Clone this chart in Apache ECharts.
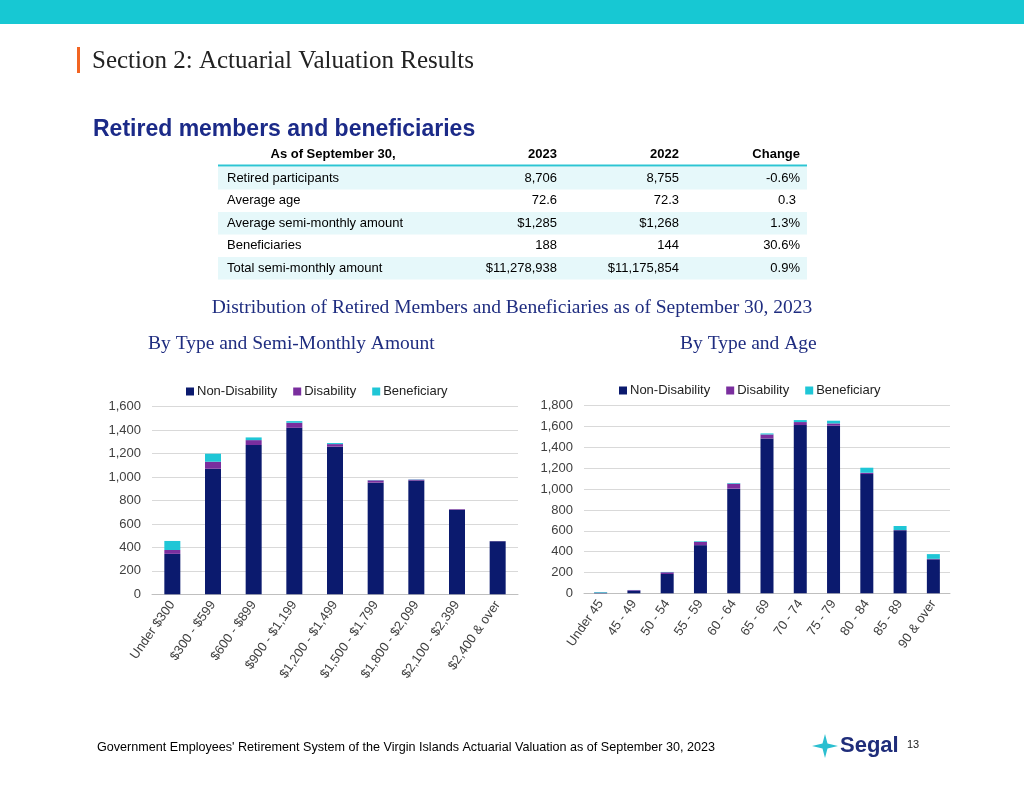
<!DOCTYPE html>
<html>
<head>
<meta charset="utf-8">
<title>Retired members and beneficiaries</title>
<script src="https://cdn.jsdelivr.net/npm/echarts@6/dist/echarts.min.js"></script>
<style>
  html, body { margin: 0; padding: 0; background: #fff; }
  #page { width: 1024px; height: 791px; }
</style>
</head>
<body>
<div id="page"></div>
<script>
// summary table
const tableHead = ['As of September 30,', '2023', '2022', 'Change']
const rowLabels = ['Retired participants', 'Average age', 'Average semi-monthly amount', 'Beneficiaries', 'Total semi-monthly amount']
const val2023 = ['8,706', '72.6', '$1,285', '188', '$11,278,938']
const val2022 = ['8,755', '72.3', '$1,268', '144', '$11,175,854']
const valChange = ['-0.6%', '0.3', '1.3%', '30.6%', '0.9%']

const seriesNames = ['Non-Disability', 'Disability', 'Beneficiary']

// by semi-monthly amount
const amountCats = ['Under $300', '$300 - $599', '$600 - $899', '$900 - $1,199', '$1,200 - $1,499', '$1,500 - $1,799', '$1,800 - $2,099', '$2,100 - $2,399', '$2,400 & over']
const amountNonDis = [345, 1071, 1273, 1420, 1259, 952, 970, 722, 453]
const amountDis = [33, 60, 42, 43, 22, 20, 8, 5, 1]
const amountBen = [77, 68, 23, 14, 9, 2, 2, 0, 0]

// by age
const ageCats = ['Under 45', '45 - 49', '50 - 54', '55 - 59', '60 - 64', '65 - 69', '70 - 74', '75 - 79', '80 - 84', '85 - 89', '90 & over']
const ageNonDis = [6, 22, 185, 462, 1004, 1486, 1614, 1608, 1144, 605, 326]
const ageDis = [1, 8, 17, 32, 48, 38, 29, 22, 13, 2, 5]
const ageBen = [5, 2, 3, 6, 6, 10, 19, 26, 48, 39, 45]

const colors = ['#0b1a6e', '#7a2e9e', '#1fc6d6']
const sans = '"Liberation Sans", Arial, sans-serif'
const serif = '"Liberation Serif", "DejaVu Serif", serif'
const navy = '#1f2d80'

const chart = echarts.init(document.getElementById('page'))

const txt = (text, x, y, o) => ({
  type: 'text',
  style: Object.assign({ text, x, y, fill: '#000', fontSize: 13, fontFamily: sans, align: 'left', verticalAlign: 'middle' }, o || {})
})

// page furniture + table
const graphic = [
  { type: 'rect', shape: { x: 0, y: 0, width: 1024, height: 24 }, style: { fill: '#17c8d3' } },
  { type: 'rect', shape: { x: 77, y: 47, width: 3, height: 26 }, style: { fill: '#f26522' } },
  txt('Section 2: Actuarial Valuation Results', 92, 61, { fontSize: 25, fontFamily: serif, fill: '#222' }),
  txt('Retired members and beneficiaries', 93, 130, { fontSize: 23, fontWeight: 'bold', fill: '#1b2a88' }),
  txt(tableHead[0], 333, 154, { fontWeight: 'bold', align: 'center' }),
  txt(tableHead[1], 557, 154, { fontWeight: 'bold', align: 'right' }),
  txt(tableHead[2], 679, 154, { fontWeight: 'bold', align: 'right' }),
  txt(tableHead[3], 800, 154, { fontWeight: 'bold', align: 'right' })
]

const rowTop = 167
const rowH = 22.5
rowLabels.forEach((label, i) => {
  const yMid = rowTop + i * rowH + rowH / 2
  if (i % 2 === 0) {
    graphic.push({ type: 'rect', shape: { x: 218, y: rowTop + i * rowH, width: 589, height: rowH }, style: { fill: '#e6f8fa' } })
  }
  graphic.push(txt(label, 227, yMid))
  graphic.push(txt(val2023[i], 557, yMid, { align: 'right' }))
  graphic.push(txt(val2022[i], 679, yMid, { align: 'right' }))
  graphic.push(txt(valChange[i], valChange[i].endsWith('%') ? 800 : 796, yMid, { align: 'right' }))
})

graphic.push(
  { type: 'rect', shape: { x: 218, y: 164.5, width: 589, height: 2 }, style: { fill: '#2cc5d3' } },
  txt('Distribution of Retired Members and Beneficiaries as of September 30, 2023', 512, 308, { fontSize: 19.5, fontFamily: serif, fill: navy, align: 'center' }),
  txt('By Type and Semi-Monthly Amount', 148, 344, { fontSize: 19.5, fontFamily: serif, fill: navy }),
  txt('By Type and Age', 680, 344, { fontSize: 19.5, fontFamily: serif, fill: navy }),
  txt("Government Employees' Retirement System of the Virgin Islands Actuarial Valuation as of September 30, 2023", 97, 748, { fontSize: 12.6 }),
  {
    type: 'polygon',
    shape: { points: [[825, 734], [827.5, 743.5], [838, 746], [827.5, 748.5], [825, 758], [822.5, 748.5], [812, 746], [822.5, 743.5]] },
    style: { fill: '#2bbfd0' }
  },
  txt('Segal', 840, 746, { fontSize: 22, fontWeight: 'bold', fill: '#1f2d7a' }),
  txt('13', 907, 745, { fontSize: 11, fill: '#222' })
)

const thousands = v => v.toLocaleString('en-US')

const xAxisBase = {
  type: 'category',
  axisTick: { show: false },
  axisLine: { lineStyle: { color: '#bfbfbf' } },
  axisLabel: { interval: 0, rotate: 55, fontSize: 13, color: '#404040', fontFamily: sans, margin: 8 }
}
const yAxisBase = {
  type: 'value',
  min: 0,
  interval: 200,
  axisLine: { show: false },
  axisTick: { show: false },
  splitLine: { lineStyle: { color: '#d9d9d9' } },
  axisLabel: { fontSize: 13, color: '#404040', fontFamily: sans, margin: 11, formatter: thousands }
}

const legendBase = {
  data: seriesNames,
  icon: 'rect',
  itemWidth: 8,
  itemHeight: 8,
  itemGap: 16,
  selectedMode: false,
  textStyle: { fontSize: 13, color: '#222', fontFamily: sans, padding: [0, 0, 0, -2] }
}

const stackSeries = (data, idx, stack, barWidth) => data.map((d, k) => ({
  name: seriesNames[k],
  type: 'bar',
  stack,
  xAxisIndex: idx,
  yAxisIndex: idx,
  barWidth,
  itemStyle: { color: colors[k] },
  data: d
}))

const option = {
  animation: false,
  graphic,
  legend: [
    Object.assign({ left: 181, top: 380 }, legendBase),
    Object.assign({ left: 614, top: 379 }, legendBase)
  ],
  grid: [
    { left: 152, top: 406.7, width: 366, height: 187.6 },
    { left: 584, top: 405.7, width: 366, height: 187.6 }
  ],
  xAxis: [
    Object.assign({ gridIndex: 0, data: amountCats }, xAxisBase),
    Object.assign({ gridIndex: 1, data: ageCats }, xAxisBase)
  ],
  yAxis: [
    Object.assign({ gridIndex: 0, max: 1600 }, yAxisBase),
    Object.assign({ gridIndex: 1, max: 1800 }, yAxisBase)
  ],
  series: [
    ...stackSeries([amountNonDis, amountDis, amountBen], 0, 'amount', 16),
    ...stackSeries([ageNonDis, ageDis, ageBen], 1, 'age', 13)
  ]
}

chart.setOption(option)
window.addEventListener('resize', () => chart.resize())
</script>
</body>
</html>
